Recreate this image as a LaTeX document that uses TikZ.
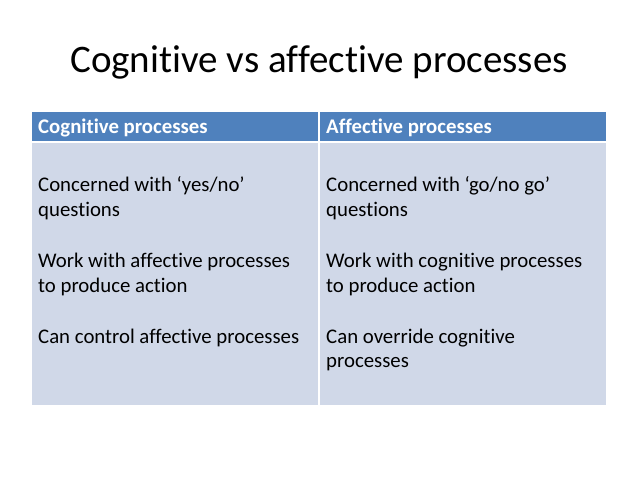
\documentclass[tikz,border=0pt]{standalone}
\usepackage{fontspec}
\setmainfont{Carlito}[Ligatures=NoCommon]
\definecolor{hdr}{HTML}{4F81BD}
\definecolor{bdy}{HTML}{D0D8E8}
\begin{document}
\begin{tikzpicture}[x=1pt,y=-1pt,
  cell/.style={anchor=west,inner sep=0pt,font=\fontsize{20.8}{24}\selectfont},
  head/.style={cell,text=white,font=\fontsize{20.8}{24}\selectfont\bfseries}]
\useasboundingbox[fill=white] (0,0) rectangle (638,478);
\node[inner sep=0pt,font=\fontsize{39}{46}\selectfont] (title) at (319,62) {Cognitive vs affective processes};
\fill[hdr] (32,112) rectangle (606,142);
\fill[bdy] (32,142) rectangle (606,405);
\draw[white,line width=1.5pt] (32,142) -- (606,142);
\draw[white,line width=1.5pt] (319,112) -- (319,405);
\node[head] (h1) at (38,128) {Cognitive processes};
\node[head] (h2) at (326,128) {Affective processes};
\node[cell] (a1) at (38,186) {Concerned with ‘yes/no’};
\node[cell] (a2) at (38,211) {questions};
\node[cell] (a3) at (38,262) {Work with affective processes};
\node[cell] (a4) at (38,287) {to produce action};
\node[cell] (a5) at (38,338) {Can control affective processes};
\node[cell] (b1) at (326,186) {Concerned with ‘go/no go’};
\node[cell] (b2) at (326,211) {questions};
\node[cell] (b3) at (326,262) {Work with cognitive processes};
\node[cell] (b4) at (326,287) {to produce action};
\node[cell] (b5) at (326,338) {Can override cognitive};
\node[cell] (b6) at (326,364) {processes};
\end{tikzpicture}
\end{document}
